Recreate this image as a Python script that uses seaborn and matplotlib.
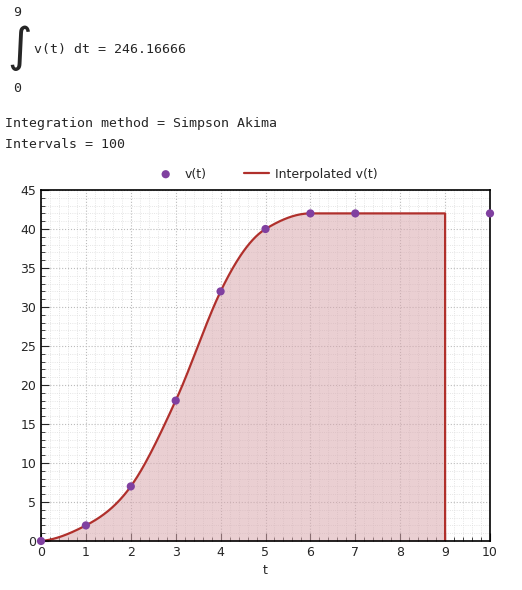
import numpy as np
import matplotlib
matplotlib.use("Agg")
import matplotlib.pyplot as plt
import seaborn as sns
from matplotlib.ticker import MultipleLocator

t_pts = [0, 1, 2, 3, 4, 5, 6, 7, 10]
v_pts = [0, 2, 7, 18, 32, 40, 42, 42, 42]
upper = 9
integral_text = "v(t) dt = 246.16666"
method_text = "Integration method = Simpson Akima"
intervals_text = "Intervals = 100"

def akima(x, y, xq):
    x = np.asarray(x, float); y = np.asarray(y, float)
    m = np.diff(y) / np.diff(x)
    m = np.concatenate([[3*m[0]-2*m[1], 2*m[0]-m[1]], m, [2*m[-1]-m[-2], 3*m[-1]-2*m[-2]]])
    n = len(x)
    s = np.zeros(n)
    for i in range(n):
        m1, m2, m3, m4 = m[i], m[i+1], m[i+2], m[i+3]
        w1, w2 = abs(m4-m3), abs(m2-m1)
        s[i] = (m2+m3)/2 if w1+w2 == 0 else (w1*m2+w2*m3)/(w1+w2)
    out = []
    for q in xq:
        i = min(max(np.searchsorted(x, q) - 1, 0), n-2)
        h = x[i+1]-x[i]; d = (q-x[i])/h
        h00 = 2*d**3-3*d**2+1; h10 = d**3-2*d**2+d
        h01 = -2*d**3+3*d**2; h11 = d**3-d**2
        out.append(h00*y[i]+h10*h*s[i]+h01*y[i+1]+h11*h*s[i+1])
    return np.array(out)

sns.set_style("white")
plt.rcParams['font.family'] = ['DejaVu Sans']
fig = plt.figure(figsize=(5.22, 5.90), dpi=100)
ax = fig.add_axes([41/522, 1-541/590, 449/522, 351/590])

tq = np.linspace(0, upper, 400)
vq = akima(t_pts, v_pts, tq)
ax.fill_between(tq, 0, vq, color="#d9a8ae", alpha=0.55, lw=0)
ax.plot(np.r_[tq, upper], np.r_[vq, 0], color="#b0302c", lw=1.6, label="Interpolated v(t)")
sns.scatterplot(x=t_pts, y=v_pts, ax=ax, color="#8040a0", s=35, zorder=5, edgecolor="none", label="v(t)", clip_on=False)

ax.set_xlim(0, 10); ax.set_ylim(0, 45)
ax.xaxis.set_major_locator(MultipleLocator(1)); ax.xaxis.set_minor_locator(MultipleLocator(0.2))
ax.yaxis.set_major_locator(MultipleLocator(5)); ax.yaxis.set_minor_locator(MultipleLocator(1))
ax.grid(True, which="major", color="#bbbbbb", ls=":", lw=0.8)
ax.grid(True, which="minor", color="#dddddd", ls=":", lw=0.6)
ax.tick_params(which="both", direction="in", bottom=True, left=True, top=False, right=False)
ax.tick_params(which="major", length=6, labelsize=9)
ax.tick_params(which="minor", length=3)
for s in ax.spines.values():
    s.set_color("black"); s.set_linewidth(1.2)
ax.set_xlabel("t", fontsize=9)
ax.set_ylabel("")
h, l = ax.get_legend_handles_labels()
order = [l.index("v(t)"), l.index("Interpolated v(t)")]
ax.legend([h[i] for i in order], [l[i] for i in order], loc="lower center",
          bbox_to_anchor=(0.5, 0.995), ncol=2, frameon=False, fontsize=9, columnspacing=3,
          handletextpad=0.5)

mono = "DejaVu Sans Mono"
fig.text(7/522, 1-48/590, "\u222b", fontsize=34, va="center", family="DejaVu Sans")
fig.text(13/522, 1-12/590, str(upper), fontsize=9.5, va="center", family=mono)
fig.text(13/522, 1-88/590, "0", fontsize=9.5, va="center", family=mono)
fig.text(34/522, 1-49/590, integral_text, fontsize=9.5, va="center", family=mono)
fig.text(5/522, 1-124/590, method_text, fontsize=9.5, va="center", family=mono)
fig.text(5/522, 1-144/590, intervals_text, fontsize=9.5, va="center", family=mono)
fig.savefig("out.png", dpi=100)
